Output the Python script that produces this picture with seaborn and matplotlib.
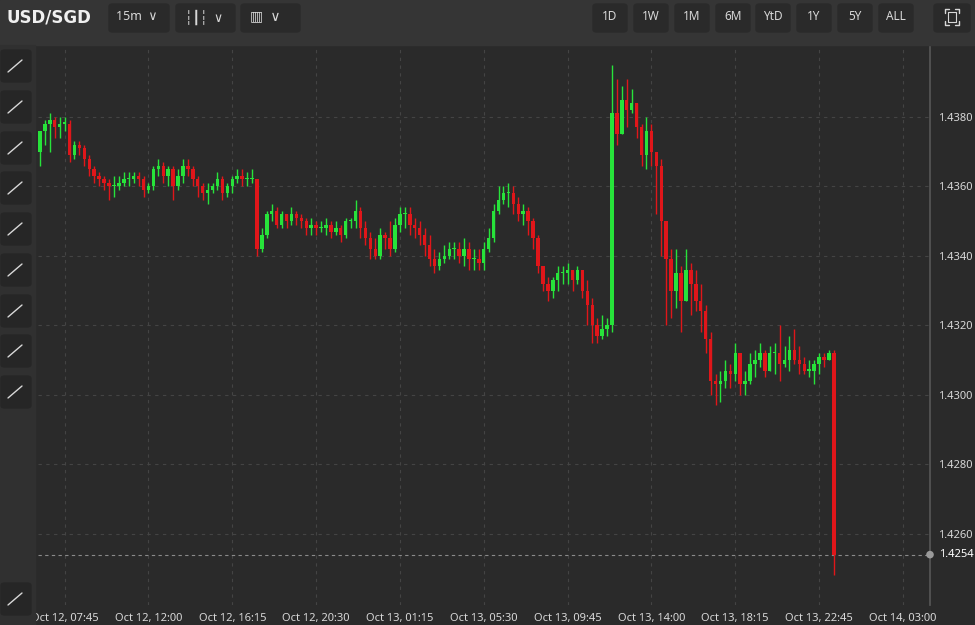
import numpy as np
import pandas as pd
import matplotlib.pyplot as plt
import seaborn as sns
from matplotlib.patches import FancyBboxPatch

sns.set_theme(style='dark')
plt.rcParams['font.family'] = ['Noto Sans', 'DejaVu Sans']

# USD/SGD 15m candles, Oct 12 07:xx -> Oct 13 23:xx
first_open = 1.4370
closes = [
    1.4376, 1.4378, 1.4379, 1.4377, 1.4378, 1.4378,
    1.4369, 1.4372, 1.4371, 1.4368, 1.4365,
    1.4363, 1.4362, 1.4361, 1.4360, 1.4360, 1.4361, 1.4362, 1.4362, 1.4363,
    1.4362, 1.4359, 1.4360, 1.4365, 1.4366, 1.4363, 1.4365, 1.4360, 1.4363, 1.4366, 1.4365, 1.4362,
    1.4360, 1.4358, 1.4359, 1.4360, 1.4362, 1.4358, 1.4360, 1.4362, 1.4363, 1.4362, 1.4362, 1.4362,
    1.4342, 1.4346, 1.4352, 1.4353, 1.4349, 1.4352, 1.4350, 1.4352,
    1.4351, 1.4350, 1.4348, 1.4349, 1.4348, 1.4348, 1.4349, 1.4347, 1.4348, 1.4346, 1.4350, 1.4350, 1.4353, 1.4348,
    1.4345, 1.4342, 1.4340, 1.4346, 1.4345, 1.4342, 1.4349, 1.4352,
    1.4352, 1.4349, 1.4348, 1.4346, 1.4343, 1.4339,
    1.4337, 1.4339, 1.4340, 1.4342, 1.4342, 1.4340, 1.4342, 1.4339, 1.4339, 1.4338, 1.4342, 1.4345,
    1.4353, 1.4356, 1.4358, 1.4358, 1.4355, 1.4352, 1.4353, 1.4350, 1.4345, 1.4337,
    1.4332, 1.4330, 1.4333, 1.4335, 1.4335, 1.4336, 1.4333, 1.4336, 1.4330, 1.4326,
    1.4320, 1.4317, 1.4319, 1.4320,
    1.4381, 1.4375,
    1.4385, 1.4382, 1.4384, 1.4377, 1.4369, 1.4376, 1.4370,
    1.4366, 1.4350, 1.4339, 1.4330, 1.4335, 1.4327, 1.4336, 1.4332,
    1.4327, 1.4324, 1.4316, 1.4304,
    1.4303, 1.4304, 1.4307, 1.4306, 1.4312, 1.4303, 1.4304, 1.4309,
    1.4310, 1.4312, 1.4307, 1.4312, 1.4312, 1.4309, 1.4310, 1.4313,
    1.4310, 1.4309, 1.4307, 1.4307, 1.4309, 1.4311, 1.4310, 1.4312,
    1.4254,
]
highs = [
    1.4374, 1.4379, 1.4381, 1.4380, 1.4380, 1.4380,
    1.4379, 1.4373, 1.4373, 1.4372, 1.4369,
    1.4366, 1.4364, 1.4363, 1.4362, 1.4363, 1.4363, 1.4364, 1.4364, 1.4364,
    1.4364, 1.4363, 1.4361, 1.4366, 1.4368, 1.4367, 1.4366, 1.4366, 1.4365, 1.4368, 1.4368, 1.4366,
    1.4363, 1.4361, 1.4361, 1.4361, 1.4364, 1.4363, 1.4361, 1.4363, 1.4365, 1.4365, 1.4364, 1.4365,
    1.4362, 1.4348, 1.4353, 1.4355, 1.4354, 1.4353, 1.4352, 1.4354,
    1.4353, 1.4352, 1.4351, 1.4351, 1.4350, 1.4350, 1.4351, 1.4350, 1.4350, 1.4349, 1.4351, 1.4351, 1.4356, 1.4354,
    1.4350, 1.4347, 1.4345, 1.4348, 1.4347, 1.4350, 1.4351, 1.4354,
    1.4354, 1.4354, 1.4351, 1.4350, 1.4348, 1.4346,
    1.4342, 1.4341, 1.4343, 1.4344, 1.4344, 1.4344, 1.4345, 1.4344, 1.4342, 1.4342, 1.4344, 1.4348,
    1.4355, 1.4360, 1.4360, 1.4361, 1.4360, 1.4357, 1.4355, 1.4354, 1.4351, 1.4346,
    1.4337, 1.4334, 1.4334, 1.4337, 1.4337, 1.4338, 1.4336, 1.4337, 1.4336, 1.4333,
    1.4328, 1.4322, 1.4323, 1.4322,
    1.4395, 1.4391,
    1.4389, 1.4391, 1.4388, 1.4384, 1.4378, 1.4380, 1.4378,
    1.4370, 1.4368, 1.4350, 1.4342, 1.4342, 1.4337, 1.4342, 1.4338,
    1.4336, 1.4332, 1.4326, 1.4318,
    1.4306, 1.4307, 1.4310, 1.4309, 1.4315, 1.4312, 1.4307, 1.4312,
    1.4313, 1.4315, 1.4313, 1.4314, 1.4315, 1.4320, 1.4314, 1.4317,
    1.4319, 1.4314, 1.4311, 1.4310, 1.4310, 1.4312, 1.4312, 1.4313,
    1.4313,
]
lows = [
    1.4366, 1.4372, 1.4370, 1.4374, 1.4374, 1.4376,
    1.4367, 1.4368, 1.4369, 1.4366, 1.4363,
    1.4361, 1.4360, 1.4359, 1.4356, 1.4357, 1.4359, 1.4360, 1.4360, 1.4361,
    1.4360, 1.4357, 1.4358, 1.4359, 1.4363, 1.4361, 1.4360, 1.4356, 1.4359, 1.4361, 1.4363, 1.4360,
    1.4357, 1.4356, 1.4355, 1.4358, 1.4359, 1.4356, 1.4357, 1.4358, 1.4361, 1.4360, 1.4360, 1.4361,
    1.4340, 1.4341, 1.4345, 1.4350, 1.4348, 1.4348, 1.4348, 1.4349,
    1.4349, 1.4348, 1.4346, 1.4346, 1.4346, 1.4347, 1.4346, 1.4345, 1.4346, 1.4344, 1.4345, 1.4348, 1.4348, 1.4345,
    1.4343, 1.4339, 1.4339, 1.4339, 1.4342, 1.4340, 1.4341, 1.4347,
    1.4348, 1.4346, 1.4345, 1.4343, 1.4340, 1.4337,
    1.4335, 1.4336, 1.4338, 1.4339, 1.4339, 1.4338, 1.4337, 1.4336, 1.4336, 1.4336, 1.4336, 1.4341,
    1.4344, 1.4352, 1.4355, 1.4354, 1.4352, 1.4350, 1.4349, 1.4346, 1.4342, 1.4335,
    1.4330, 1.4327, 1.4328, 1.4330, 1.4332, 1.4332, 1.4330, 1.4332, 1.4328, 1.4320,
    1.4315, 1.4315, 1.4316, 1.4317,
    1.4318, 1.4372,
    1.4379, 1.4377, 1.4381, 1.4374, 1.4366, 1.4365, 1.4366,
    1.4352, 1.4340, 1.4320, 1.4322, 1.4325, 1.4318, 1.4328, 1.4323,
    1.4324, 1.4318, 1.4312, 1.4300,
    1.4297, 1.4298, 1.4302, 1.4302, 1.4304, 1.4300, 1.4300, 1.4303,
    1.4305, 1.4308, 1.4305, 1.4307, 1.4306, 1.4304, 1.4308, 1.4307,
    1.4309, 1.4306, 1.4306, 1.4305, 1.4303, 1.4306, 1.4308, 1.4310,
    1.4248,
]
last_price = 1.4254
x_labels = ['Oct 12, 07:45', 'Oct 12, 12:00', 'Oct 12, 16:15', 'Oct 12, 20:30',
            'Oct 13, 01:15', 'Oct 13, 05:30', 'Oct 13, 09:45', 'Oct 13, 14:00',
            'Oct 13, 18:15', 'Oct 13, 22:45', 'Oct 14, 03:00']
y_ticks = [1.4260, 1.4280, 1.4300, 1.4320, 1.4340, 1.4360, 1.4380]

df = pd.DataFrame({'close': closes, 'high': highs, 'low': lows})
df['open'] = [first_open] + closes[:-1]
df['idx'] = np.arange(len(df))
df['high'] = df[['high', 'open', 'close']].max(axis=1)
df['low'] = df[['low', 'open', 'close']].min(axis=1)
df['up'] = df['close'] >= df['open']

BG = '#2a2a2a'
GREEN = '#27e33a'
RED = '#e0161a'
TXT = '#d8d8d8'

fig = plt.figure(figsize=(9.75, 6.25), dpi=100, facecolor=BG)
ax = fig.add_axes([38 / 975, 20 / 625, 892 / 975, 560 / 625])
ax.set_facecolor(BG)

colors = np.where(df['up'], GREEN, RED)
ax.vlines(df['idx'], df['low'], df['high'], colors=colors, linewidth=1.0, zorder=3)
body = (df['close'] - df['open']).abs().clip(lower=0.00004)
ax.bar(df['idx'], body, bottom=df[['open', 'close']].min(axis=1), width=0.7,
       color=colors, linewidth=0, zorder=4)

tick_pos = [5 + 17 * i for i in range(len(x_labels))]
ax.set_xlim(-0.4, 180.5)
ax.set_ylim(1.42395, 1.44007)
ax.set_xticks(tick_pos)
ax.set_xticklabels(x_labels, color=TXT, fontsize=8)
ax.set_yticks(y_ticks)
ax.set_yticklabels([f'{v:.4f}' for v in y_ticks], color=TXT, fontsize=8)
ax.yaxis.tick_right()
ax.tick_params(length=0, pad=6)
ax.grid(True, color='#444444', linestyle=(0, (3, 4)), linewidth=0.8)
for s in ax.spines.values():
    s.set_visible(False)
ax.spines['right'].set_visible(True)
ax.spines['right'].set_color('#555555')

# last price line + marker
ax.axhline(last_price, color='#8a8a8a', linestyle=(0, (3, 3)), linewidth=0.8, zorder=2)
sns.scatterplot(x=[180.5], y=[last_price], color='#9a9a9a', s=30, ax=ax,
                clip_on=False, zorder=6, edgecolor='none')
ax.text(1.01, last_price, f'{last_price:.4f}', transform=ax.get_yaxis_transform(),
        color='#ffffff', fontsize=8, va='center')

# top toolbar
fig.patches.append(plt.Rectangle((0, 580 / 625), 1, 45 / 625, transform=fig.transFigure,
                                 color='#353535', zorder=0))
fig.patches.append(plt.Rectangle((0, 0), 35 / 975, 580 / 625, transform=fig.transFigure,
                                 color='#303030', zorder=0))
fig.text(7 / 975, 1 - 17 / 625, 'USD/SGD', color='#f0f0f0', fontsize=12,
         fontweight='bold', va='center', family=['DejaVu Sans'])


def button(x0, w, y0=4, h=28):
    fig.patches.append(FancyBboxPatch((x0 / 975, 1 - (y0 + h) / 625), w / 975, h / 625,
                                      boxstyle='round,pad=0,rounding_size=0.004',
                                      transform=fig.transFigure, color='#2a2a2a', zorder=1))


def fline(xs, ys, lw=1.0):
    fig.lines.append(plt.Line2D([x / 975 for x in xs], [1 - y / 625 for y in ys],
                                transform=fig.transFigure, color=TXT, linewidth=lw))


button(109, 60)
fig.text(116 / 975, 1 - 17 / 625, '15m  ∨', color=TXT, fontsize=9, va='center')
button(176, 59)
fig.text(185 / 975, 1 - 17 / 625, '┆┃┆  ∨', color=TXT, fontsize=9, va='center')
button(241, 59)
fig.text(250 / 975, 1 - 17 / 625, '▥  ∨', color=TXT, fontsize=10, va='center')
for lbl, xc in zip(['1D', '1W', '1M', '6M', 'YtD', '1Y', '5Y', 'ALL'],
                   [610, 651, 692, 733, 773, 814, 855, 896]):
    button(xc - 17, 34)
    fig.text(xc / 975, 1 - 17 / 625, lbl, color=TXT, fontsize=8.5, ha='center', va='center')
button(934, 36)
# fullscreen icon: four corner brackets
for cx, cy, dx, dy in [(945, 9, 1, 1), (959, 9, -1, 1), (945, 25, 1, -1), (959, 25, -1, -1)]:
    fline([cx + 4 * dx, cx, cx], [cy, cy, cy + 4 * dy])
fline([948, 956, 956, 948, 948], [12, 12, 22, 22, 12], lw=0.8)

# left drawing tools
for yc in [66, 107, 148, 188, 229, 270, 311, 351, 392, 599]:
    fig.patches.append(FancyBboxPatch((1 / 975, 1 - (yc + 16) / 625), 30 / 975, 32 / 625,
                                      boxstyle='round,pad=0,rounding_size=0.004',
                                      transform=fig.transFigure, color='#262626', zorder=1))
    fline([8, 22], [yc + 6, yc - 6])

fig.savefig('out.png', dpi=100, facecolor=BG)
